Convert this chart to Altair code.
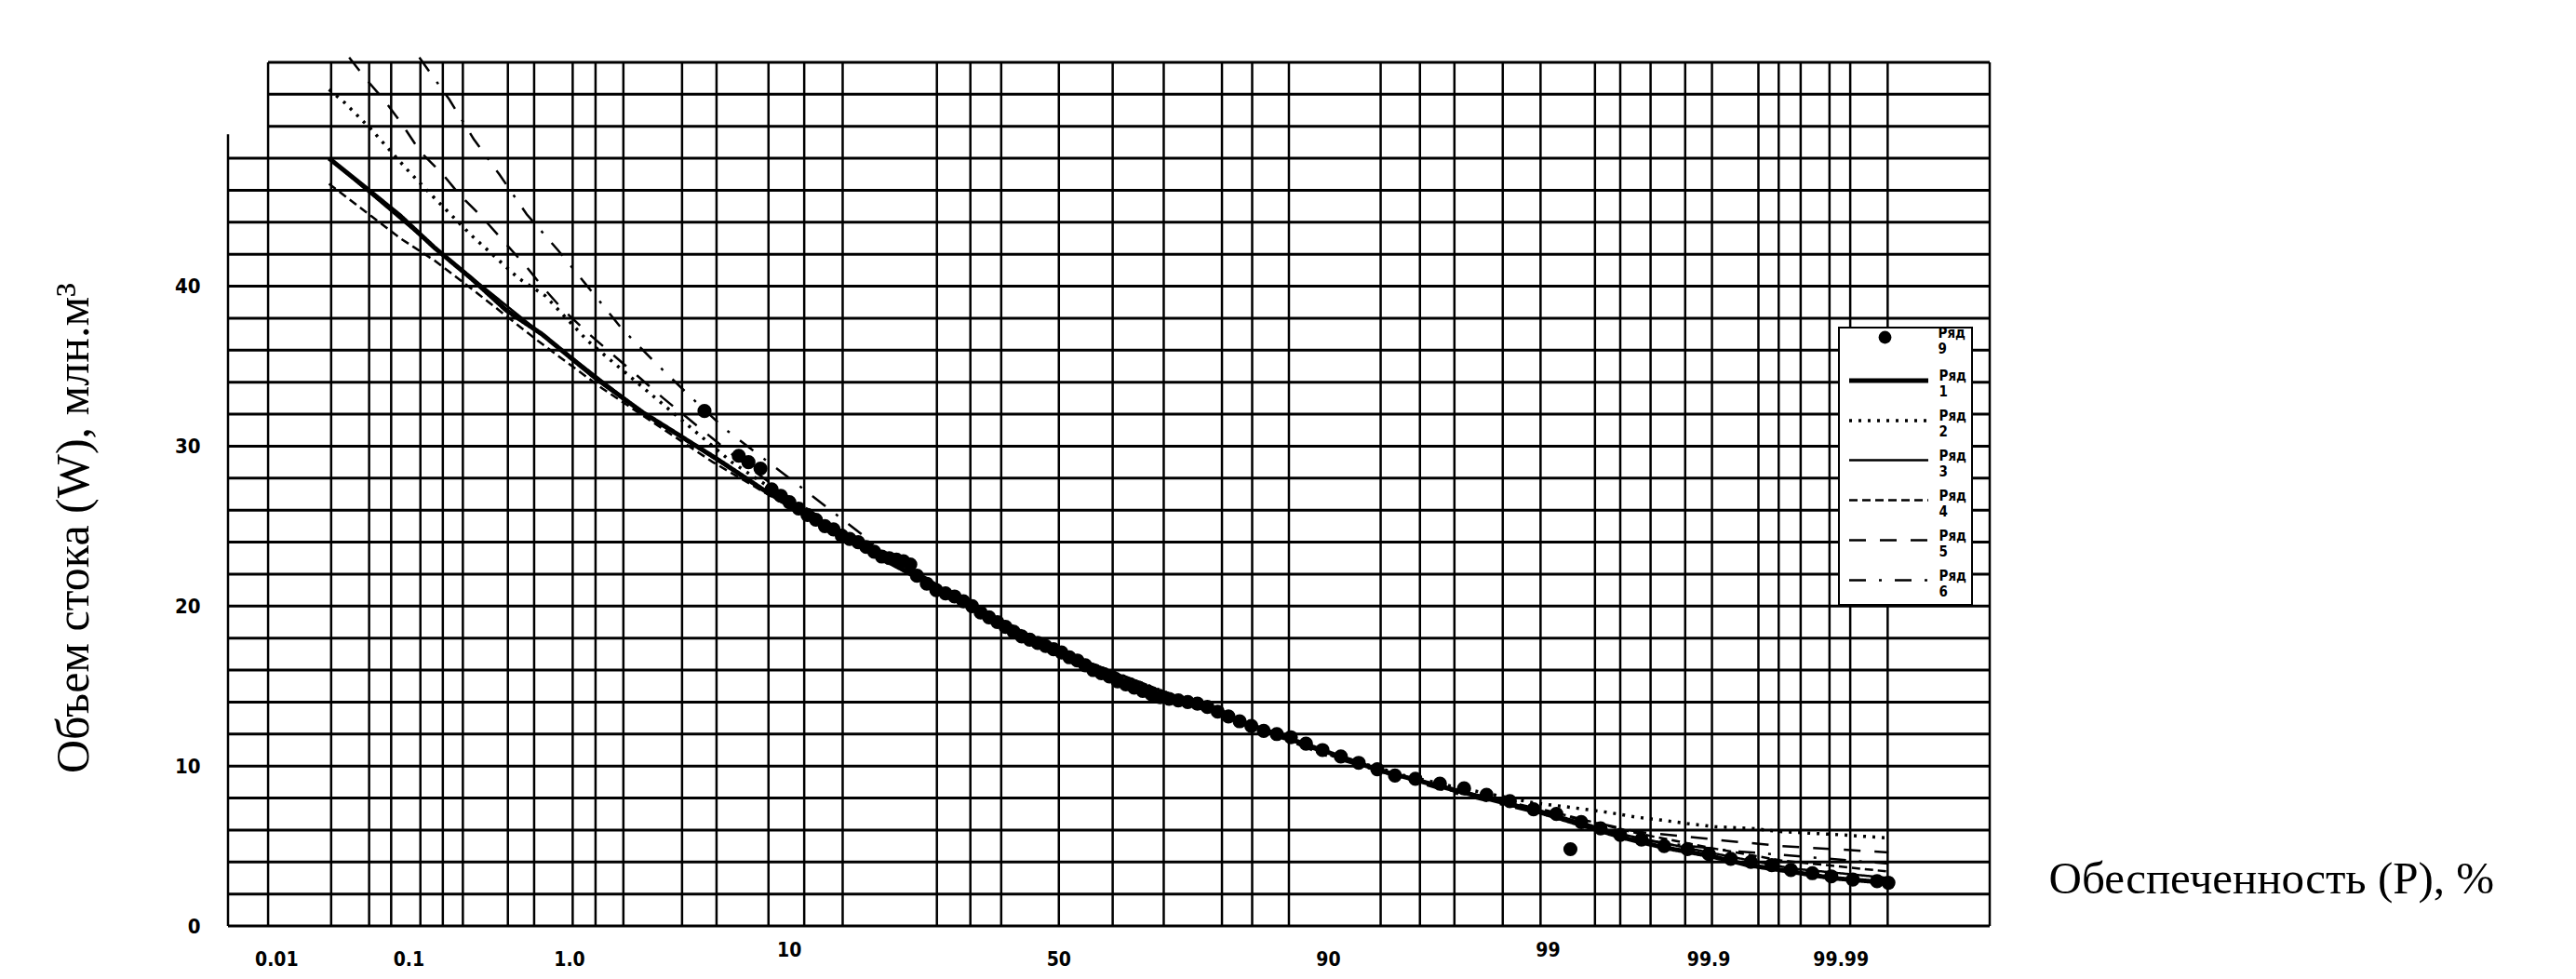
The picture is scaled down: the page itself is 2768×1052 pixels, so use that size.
import altair as alt
import pandas as pd
from statistics import NormalDist

ND = NormalDist()

# ---------------- values ----------------
LINE_SERIES = ["Ряд 1", "Ряд 2", "Ряд 3", "Ряд 4", "Ряд 5", "Ряд 6"]
POINT_SERIES = ["Ряд 9"]

# Ряд 9 : observed values, exceedance probability P (%) and runoff volume W (mln m3)
OBS_P = [4.6, 6.4, 7.0, 7.8, 8.6, 9.3, 10.0, 10.8, 11.6, 12.4, 13.3, 14.2, 15.1, 16.0, 17.0,
         18.0, 19.0, 20.0, 21.0, 22.0, 23.0, 24.0, 25.0, 26.5, 28.0, 29.5, 31.0, 32.5, 34.0,
         35.5, 37.0, 38.5, 40.0, 41.5, 43.0, 44.5, 46.0, 47.5, 49.0, 50.5, 52.0, 53.5, 55.0,
         56.5, 58.0, 59.5, 61.0, 62.5, 64.0, 65.5, 67.0, 68.5, 70.0, 71.5, 73.0, 74.5, 76.0,
         77.5, 79.0, 80.5, 82.0, 83.5, 85.0, 86.5, 88.0, 89.5, 91.0, 92.3, 93.5, 94.5, 95.5,
         96.5, 97.3, 97.9, 98.4, 98.8, 99.1, 99.25, 99.35, 99.5, 99.62, 99.72, 99.8, 99.86,
         99.9, 99.93, 99.95, 99.965, 99.975, 99.983, 99.988, 99.992, 99.995, 99.996]
OBS_W = [32.2, 29.4, 29.0, 28.6, 27.3, 26.9, 26.5, 26.1, 25.7, 25.4, 25.0, 24.8, 24.4, 24.2,
         24.0, 23.7, 23.4, 23.1, 23.0, 22.9, 22.8, 22.6, 21.9, 21.4, 21.0, 20.8, 20.6, 20.3,
         20.0, 19.6, 19.3, 19.0, 18.7, 18.4, 18.1, 17.9, 17.7, 17.5, 17.3, 17.1, 16.8, 16.6,
         16.3, 16.0, 15.8, 15.6, 15.3, 15.1, 14.9, 14.7, 14.5, 14.3, 14.2, 14.1, 14.0, 13.9,
         13.7, 13.4, 13.1, 12.8, 12.5, 12.2, 12.0, 11.8, 11.4, 11.0, 10.6, 10.2, 9.8, 9.4,
         9.2, 8.9, 8.6, 8.2, 7.8, 7.3, 7.0, 4.8, 6.5, 6.1, 5.7, 5.4, 5.0, 4.8, 4.5, 4.2, 4.0,
         3.8, 3.5, 3.3, 3.1, 2.9, 2.8, 2.7]

R1_P = [0.026, 0.05, 0.087, 0.15, 0.26, 0.43, 0.7, 1.1, 1.4, 2.4, 5.2, 8.3, 11.3, 14.6, 20,
        30, 40, 50, 60, 70, 76.3, 86.4, 93.7, 97, 98.9, 99.36, 99.64, 99.8, 99.9, 99.948,
        99.975, 99.988, 99.996]
R1_W = [48.0, 46.1, 44.4, 42.4, 40.5, 38.5, 37.0, 35.2, 34.2, 32.1, 29.2, 27.1, 25.8, 24.7,
        23.0, 20.7, 18.8, 17.2, 15.6, 14.2, 13.5, 11.7, 9.7, 8.5, 7.1, 6.3, 5.5, 4.9, 4.4,
        3.8, 3.4, 3.0, 2.7]

R2_P = [0.026, 0.034, 0.054, 0.097, 0.15, 0.26, 0.51, 0.73, 1.25, 3, 6, 10, 20, 50, 80, 90,
        95, 97, 98.8, 99.27, 99.55, 99.7, 99.8, 99.86, 99.91, 99.95, 99.97, 99.99, 99.996]
R2_W = [52.3, 51.5, 49.8, 47.3, 45.5, 43.2, 40.5, 39.4, 36.6, 32.6, 29.0, 26.6, 23.1, 17.2,
        12.9, 10.8, 9.4, 8.7, 7.7, 7.4, 7.1, 6.8, 6.6, 6.4, 6.2, 6.1, 5.9, 5.7, 5.5]

R3_P = [0.026, 0.15, 0.7, 2.4, 8.3, 14.6, 30, 50, 76.3, 93.7, 98.9, 99.64, 99.9, 99.975,
        99.996]
R3_W = [48.0, 42.4, 37.0, 32.1, 27.1, 24.7, 20.7, 17.2, 13.5, 9.7, 7.2, 5.7, 4.6, 3.6, 3.0]

R4_P = [0.026, 0.087, 0.15, 0.29, 0.66, 1.5, 5, 10, 20, 50, 90, 97, 99, 99.7, 99.9, 99.97,
        99.996]
R4_W = [46.4, 43.0, 41.6, 39.5, 36.6, 33.6, 29.0, 26.2, 22.9, 17.2, 10.7, 8.5, 7.2, 5.8, 4.9,
        4.1, 3.4]

R5_P = [0.037, 0.05, 0.066, 0.087, 0.12, 0.17, 0.22, 0.3, 0.57, 0.7, 0.89, 1.25, 3, 6, 10, 20,
        50, 90, 97, 99, 99.7, 99.93, 99.97, 99.996]
R5_W = [54.3, 52.9, 51.7, 50.3, 48.4, 47.0, 45.7, 44.4, 41.2, 40.0, 38.7, 37.1, 33.0, 29.5,
        26.8, 23.1, 17.2, 10.7, 8.4, 7.1, 5.9, 5.3, 5.0, 4.6]

R6_P = [0.118, 0.187, 0.27, 0.39, 0.57, 0.87, 1.25, 1.87, 2.76, 4.2, 5.7, 10, 15, 20, 30, 50,
        90, 97, 99, 99.7, 99.93, 99.996]
R6_W = [54.3, 51.7, 49.2, 47.0, 44.5, 42.2, 40.0, 37.4, 35.2, 32.8, 31.0, 28.0, 25.5, 23.5,
        20.9, 17.2, 10.6, 8.3, 6.9, 5.4, 4.7, 3.9]

# probability-paper axis
X_TICK_P = [0.01, 0.1, 1.0, 10, 50, 90, 99, 99.9, 99.99]
X_TICK_TEXT = ["0.01", "0.1", "1.0", "10", "50", "90", "99", "99.9", "99.99"]
X_TICK_RAISED = ["10", "99"]
Y_TICKS = [0, 10, 20, 30, 40]

# grid of the probability paper
P_MIN = 0.0039
P_MAX = 99.99952
P_GRID_TOP_START = 0.0085
GRID_P = [0.0085, 0.027, 0.052, 0.075, 0.12, 0.17, 0.23, 0.44, 0.63, 1.04, 1.38, 1.92,
          3.66, 5.18, 8.37, 11.3, 15.2, 28.1, 33.7, 39.2, 50, 60.1, 69.1, 78.1, 82.1,
          86.3, 93.7, 95.7, 97.0, 98.26, 98.90, 99.46, 99.62, 99.755, 99.855, 99.905,
          99.956, 99.969, 99.979, 99.9876, 99.9916, 99.99594]
GRID_W = [0, 2, 4, 6, 8, 10, 12, 14, 16, 18, 20, 22, 24, 26, 28, 30, 32, 34, 36, 38, 40,
          42, 44, 46, 48, 50, 52, 54]
W_MAX = 54
W_LEFT_EDGE_TOP = 49.5
W_SHORT_FROM = 50

# ---------------- styles ----------------
PLOT_W, PLOT_H = 1893, 928
TICK_FONT = "Liberation Sans Narrow, DejaVu Sans Condensed, Arial Narrow, sans-serif"
TITLE_FONT = "Liberation Serif, Times New Roman, serif"
DASHES = [[1, 0], [3, 7], [1, 0], [9, 5], [18, 15], [18, 14, 3, 14]]
WIDTHS = [5, 3.5, 2.5, 2.5, 2.5, 2.5]
NBSP_PAD = "\u00a0" * 8   # widens the legend box to the reference's width

zmin = ND.inv_cdf(P_MIN / 100)
zmax = ND.inv_cdf(P_MAX / 100)
xscale = alt.Scale(domain=[zmin, zmax], nice=False, zero=False)
yscale = alt.Scale(domain=[0, W_MAX], nice=False, zero=False)

# blank title only reserves the room of the "Ряд 9" row at the top of the box
legend_lines = alt.Legend(
    title=" ", titleFontSize=16, titlePadding=11,
    orient="none", legendX=1731, legendY=285, zindex=1,
    fillColor="white", strokeColor="black", padding=6,
    symbolType="M-2,0H2", symbolSize=1806, symbolOffset=23.5,
    symbolStrokeColor="black", symbolOpacity=1,
    labelExpr="[split(datum.label, ' ')[0], split(datum.label, ' ')[1] + '" + NBSP_PAD + "']",
    labelFont=TICK_FONT, labelFontSize=15,
    labelFontWeight="bold", labelBaseline="alphabetic", labelOffset=30, rowPadding=0,
)
legend_points = alt.Legend(
    title=None, orient="none", legendX=1737, legendY=287.5, zindex=2, padding=0,
    symbolType="circle", symbolSize=190, symbolOffset=35.5,
    symbolFillColor="black", symbolStrokeColor="black", symbolOpacity=1,
    labelExpr="split(datum.label, ' ')", labelFont=TICK_FONT, labelFontSize=15,
    labelFontWeight="bold", labelBaseline="alphabetic", labelOffset=49,
)

xaxis = alt.Axis(labels=False, ticks=False, domain=False, grid=False,
                 title="Обеспеченность (P), %", titleFont=TITLE_FONT, titleFontSize=49,
                 titleFontWeight="normal", titleColor="black", titleX=1956, titleY=-36,
                 titleAlign="left", titleBaseline="alphabetic")
yaxis = alt.Axis(values=Y_TICKS, ticks=False, domain=False, grid=False,
                 labelFont=TICK_FONT, labelFontSize=22, labelFontWeight="bold",
                 labelColor="black", labelPadding=30,
                 title="Объем стока  (W), млн.м³", titleFont=TITLE_FONT, titleFontSize=50,
                 titleFontWeight="normal", titleColor="black", titleAngle=270,
                 titleX=-151, titleY=500, titleAlign="center", titleBaseline="alphabetic")

# ---------------- tables ----------------
gh = pd.DataFrame({"w": GRID_W})
gh["p0"] = [P_GRID_TOP_START if w >= W_SHORT_FROM else P_MIN for w in GRID_W]
gh["p1"] = P_MAX

gv = pd.DataFrame({"p": GRID_P + [P_MIN, P_MAX],
                   "w1": [W_MAX] * len(GRID_P) + [W_LEFT_EDGE_TOP, W_MAX]})
gv["w0"] = 0

line_rows = []
for name, ps, ws in zip(LINE_SERIES, [R1_P, R2_P, R3_P, R4_P, R5_P, R6_P],
                        [R1_W, R2_W, R3_W, R4_W, R5_W, R6_W]):
    for i, (p, w) in enumerate(zip(ps, ws)):
        line_rows.append({"series": name, "p": p, "w": w, "i": i})
lines_df = pd.DataFrame(line_rows)

obs_df = pd.DataFrame({"p": OBS_P, "w": OBS_W, "series": POINT_SERIES[0]})
ticks_df = pd.DataFrame({"p": X_TICK_P, "text": X_TICK_TEXT})

X = lambda f: alt.X(f, scale=xscale, axis=xaxis)
Y = lambda f: alt.Y(f, scale=yscale, axis=yaxis)

# ---------------- layers ----------------
grid_h = alt.Chart(gh).transform_calculate(
    z0="quantileNormal(datum.p0 / 100)", z1="quantileNormal(datum.p1 / 100)"
).mark_rule(color="black", strokeWidth=3).encode(x=X("z0:Q"), x2="z1:Q", y=Y("w:Q"))

grid_v = alt.Chart(gv).transform_calculate(
    z="quantileNormal(datum.p / 100)"
).mark_rule(color="black", strokeWidth=2.5).encode(x=X("z:Q"), y=Y("w0:Q"), y2="w1:Q")

lines = alt.Chart(lines_df).transform_calculate(
    z="quantileNormal(datum.p / 100)"
).mark_line(color="black", strokeCap="butt", clip=False).encode(
    x=X("z:Q"), y=Y("w:Q"),
    order="i:Q",
    strokeDash=alt.StrokeDash("series:N", scale=alt.Scale(type="ordinal", domain=LINE_SERIES, range=DASHES), legend=legend_lines),
    strokeWidth=alt.StrokeWidth("series:N", scale=alt.Scale(type="ordinal", domain=LINE_SERIES, range=WIDTHS), legend=legend_lines),
)

points = alt.Chart(obs_df).transform_calculate(
    z="quantileNormal(datum.p / 100)"
).mark_point(filled=True, color="black", size=230).encode(
    x=X("z:Q"), y=Y("w:Q"),
    opacity=alt.Opacity("series:N", scale=alt.Scale(type="ordinal", domain=POINT_SERIES, range=[1]), legend=legend_points),
)

tick_base = alt.Chart(ticks_df).transform_calculate(z="quantileNormal(datum.p / 100)")

ticks_normal = tick_base.transform_filter(
    {"not": alt.FieldOneOfPredicate(field="text", oneOf=X_TICK_RAISED).to_dict()}
).mark_text(font=TICK_FONT, fontSize=21, fontWeight="bold", color="black", baseline="middle").encode(
    x=X("z:Q"), y=alt.value(PLOT_H + 37), text="text:N")

ticks_raised = tick_base.transform_filter(
    alt.FieldOneOfPredicate(field="text", oneOf=X_TICK_RAISED)
).mark_text(font=TICK_FONT, fontSize=21, fontWeight="bold", color="black", baseline="middle").encode(
    x=X("z:Q"), y=alt.value(PLOT_H + 27), text="text:N")

chart = alt.layer(grid_h, grid_v, lines, points, ticks_normal, ticks_raised).properties(
    width=PLOT_W, height=PLOT_H,
    padding={"left": 237, "top": 59, "right": 600, "bottom": 53},
    autosize=alt.AutoSizeParams(type="none"),
    background="white",
).configure_view(stroke=None).configure_legend(strokeWidth=2)

chart.save("out.html", embed_options={"renderer": "svg", "actions": False})
